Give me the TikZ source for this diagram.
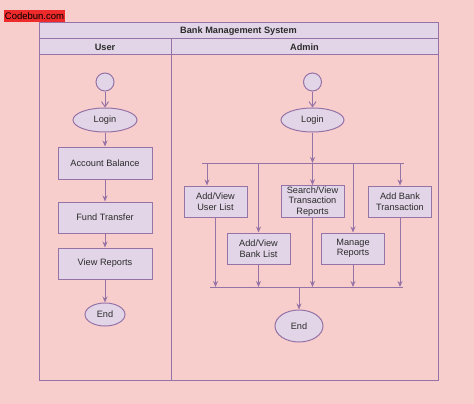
\documentclass[tikz,border=0pt]{standalone}
\usepackage{fontspec}
\setmainfont{Liberation Sans}
\usetikzlibrary{shapes.geometric,arrows.meta}
\definecolor{bg}{HTML}{F8CECC}
\definecolor{lav}{HTML}{E1D5E7}
\definecolor{pur}{HTML}{9673A6}
\definecolor{txt}{HTML}{2B2B2B}
\definecolor{brand}{HTML}{EE2A2A}
\tikzset{
  base/.style={draw=pur,fill=lav,line width=1pt,text=txt,font=\fontsize{9.2}{10.5}\selectfont,align=center,inner sep=1pt},
  actbox/.style={base,rectangle,minimum width=#1,minimum height=31pt},
  actbox/.default=63pt,
  oval/.style={base,ellipse,minimum width=64pt,minimum height=24pt},
  startdot/.style={base,circle,minimum size=18pt},
  flow/.style={draw=pur,line width=1pt,-{Stealth[length=6pt,width=5pt]}},
  openflow/.style={draw=pur,line width=1pt,-{Straight Barb[length=5pt,width=7pt]}},
  bar/.style={draw=pur,line width=1pt},
  hdr/.style={draw=pur,fill=lav,line width=1pt},
  hdrtext/.style={text=txt,font=\bfseries\fontsize{9.2}{10.5}\selectfont,inner sep=0pt}
}
\begin{document}
\begin{tikzpicture}[x=1pt,y=-1pt]
\fill[bg] (0,0) rectangle (474,404);
\useasboundingbox (0,0) rectangle (474,404);
% brand label
\node[fill=brand,text=black,font=\fontsize{9.5}{10}\selectfont,inner sep=0.6pt,minimum height=12pt,minimum width=57pt] (brand) at (34.5,16) {Codebun.com};
% frame
\draw[bar] (39,55) rectangle (438,380);
\draw[hdr] (39,23) rectangle (438,39);
\draw[hdr] (39,39) rectangle (171,55);
\draw[hdr] (171,39) rectangle (438,55);
\draw[bar] (171,55) -- (171,380);
\node[hdrtext] (title) at (238.5,31) {Bank Management System};
\node[hdrtext] (userh) at (105,47) {User};
\node[hdrtext] (adminh) at (304.5,47) {Admin};
% user lane
\node[startdot] (ustart) at (105,82) {};
\node[oval] (ulogin) at (105,120) {Login};
\node[actbox=94pt,minimum height=32pt] (acc) at (105,163) {Account Balance};
\node[actbox=94pt] (fund) at (105,217.5) {Fund Transfer};
\node[actbox=94pt] (view) at (105,263.5) {View Reports};
\node[oval,minimum width=40pt,minimum height=23pt] (uend) at (105,314.5) {End};
\draw[openflow] (ustart) -- (ulogin);
\draw[flow] (ulogin) -- (acc);
\draw[flow] (acc) -- (fund);
\draw[flow] (fund) -- (view);
\draw[flow] (view) -- (uend);
% admin lane
\node[startdot] (astart) at (312.5,82) {};
\node[oval,minimum width=63pt] (alogin) at (312.5,120) {Login};
\node[actbox] (userlist) at (215.5,201.5) {Add/View\\User List};
\node[actbox] (banklist) at (258.5,248.5) {Add/View\\Bank List};
\node[actbox] (search) at (312.5,201.5) {Search/View\\Transaction\\Reports};
\node[actbox] (manage) at (353,248.5) {Manage\\Reports};
\node[actbox] (addbank) at (400,201.5) {Add Bank\\Transaction};
\node[oval,minimum width=48pt,minimum height=32pt] (aend) at (299,326) {End};
\draw[openflow] (astart) -- (alogin);
% fork
\coordinate (fl) at (202,163);
\coordinate (fr) at (404,163);
\coordinate (f1) at (207,163);
\coordinate (f2) at (258.5,163);
\coordinate (f3) at (312.5,163);
\coordinate (f4) at (353,163);
\coordinate (f5) at (400,163);
\draw[bar] (fl) -- (fr);
\draw[flow] (alogin) -- (f3);
\draw[flow] (f1) -- (f1 |- userlist.north);
\draw[flow] (f2) -- (banklist.north);
\draw[flow] (f3) -- (search.north);
\draw[flow] (f4) -- (manage.north);
\draw[flow] (f5) -- (addbank.north);
% join
\coordinate (jl) at (210,287);
\coordinate (jr) at (403,287);
\coordinate (jc) at (299,287);
\draw[bar] (jl) -- (jr);
\draw[flow] (userlist.south) -- (userlist.south |- jl);
\draw[flow] (banklist.south) -- (banklist.south |- jl);
\draw[flow] (search.south) -- (search.south |- jl);
\draw[flow] (manage.south) -- (manage.south |- jl);
\draw[flow] (addbank.south) -- (addbank.south |- jl);
\draw[flow] (jc) -- (aend);
\end{tikzpicture}
\end{document}
